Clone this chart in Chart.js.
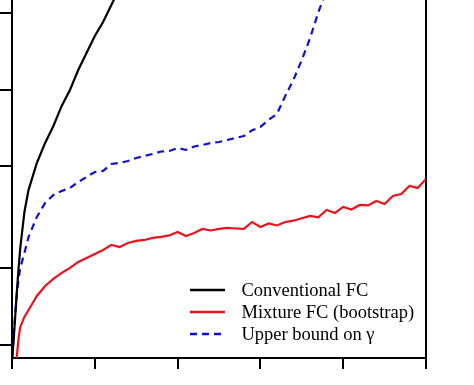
<!DOCTYPE html>
<html>
<head>
<meta charset="utf-8">
<script src="https://cdn.jsdelivr.net/npm/chart.js@4.4.1/dist/chart.umd.min.js"></script>
<style>
  body { margin: 0; background: #fff; }
  canvas { display: block; }
</style>
</head>
<body>
<canvas id="fc-chart" width="474" height="385"></canvas>
<script>
// sample positions on the x axis
const xValues = [0, 2, 4, 6, 8, 10, 15, 20, 30, 40, 50, 60, 70, 80, 90, 100,
    110, 120, 130, 140, 150, 160, 170, 180, 190, 200, 210, 220, 230, 240, 250,
    260, 270, 280, 290, 300, 310, 320, 330, 340, 350, 360, 370, 380, 390, 400,
    410, 420, 430, 440, 450, 460, 470, 480, 490, 500];

const xTicks = [0, 100, 200, 300, 400, 500];
const yTicks = [1, 2, 5, 10, 20];

const seriesLabels = ["Conventional FC", "Mixture FC (bootstrap)", "Upper bound on \u03b3"];

const conventional = [0.858, 1.046, 1.311, 1.642, 2.002, 2.398, 3.317, 4.05, 5.16, 6.18, 7.20,
    8.63, 9.96, 11.93, 13.91, 16.21, 18.39, 21.44, 24.99];

const mixture = [0.50, 0.609, 0.784, 0.914, 1.065, 1.176, 1.287, 1.371, 1.555, 1.702, 1.813,
    1.914, 2.002, 2.113, 2.191, 2.272, 2.355, 2.464, 2.419, 2.508, 2.554,
    2.577, 2.624, 2.648, 2.684, 2.769, 2.672, 2.745, 2.846, 2.807, 2.846,
    2.871, 2.858, 2.846, 3.030, 2.897, 2.990, 2.937, 3.030, 3.066, 3.134,
    3.200, 3.163, 3.378, 3.288, 3.470, 3.393, 3.533, 3.517, 3.663, 3.565,
    3.832, 3.902, 4.194, 4.119, 4.467];

const upperBound = [0.874, 1.094, 1.346, 1.598, 1.813, 2.002, 2.293, 2.648, 3.171, 3.597, 3.867,
    4.009, 4.119, 4.347, 4.548, 4.758, 4.801, 5.113, 5.16, 5.254, 5.398,
    5.495, 5.595, 5.723, 5.749, 5.906, 5.801, 5.986, 6.068, 6.178, 6.234,
    6.347, 6.463, 6.581, 6.93, 7.14, 7.62, 8.03, 9.44, 10.94, 13.06,
    15.92, 20.1, 24.55];

function toPoints(values) {
    return values.map((v, i) => ({ x: xValues[i], y: v }));
}

// legend drawn inside the plot, lower right
const innerLegend = {
    id: "innerLegend",
    afterDraw(chart) {
        const ctx = chart.ctx;
        ctx.save();
        ctx.font = "18.5px 'Liberation Serif', 'DejaVu Serif', serif";
        ctx.textBaseline = "alphabetic";
        ctx.fillStyle = "#000";
        chart.data.datasets.forEach((ds, i) => {
            const y = 290 + i * 22;
            ctx.beginPath();
            ctx.strokeStyle = ds.borderColor;
            ctx.lineWidth = 2.3;
            ctx.setLineDash(ds.borderDash || []);
            ctx.moveTo(190, y);
            ctx.lineTo(225, y);
            ctx.stroke();
            ctx.setLineDash([]);
            ctx.fillText(ds.label, 241.5, y + 6);
        });
        ctx.restore();
    }
};

const ctx = document.getElementById("fc-chart").getContext("2d");

const myChart = new Chart(ctx, {
    type: "line",
    data: {
        datasets: [
            {
                label: seriesLabels[0],
                data: toPoints(conventional),
                borderColor: "#000000",
                borderWidth: 2.2
            },
            {
                label: seriesLabels[1],
                data: toPoints(mixture),
                borderColor: "#e8141c",
                borderWidth: 2.2
            },
            {
                label: seriesLabels[2],
                data: toPoints(upperBound),
                borderColor: "#1010d0",
                borderWidth: 2.2,
                borderDash: [7, 5]
            }
        ]
    },
    options: {
        responsive: false,
        animation: false,
        layout: { padding: { top: 0, right: 48, bottom: 0, left: 0 } },
        elements: { point: { radius: 0 }, line: { tension: 0 } },
        plugins: { legend: { display: false }, tooltip: { enabled: false } },
        scales: {
            x: {
                type: "linear",
                min: 0,
                max: 500,
                afterBuildTicks: s => { s.ticks = xTicks.map(v => ({ value: v })); },
                afterFit: s => { s.height = 27; },
                ticks: { display: false },
                grid: { drawOnChartArea: false, drawTicks: true, tickLength: 11, color: "#000", lineWidth: 2 },
                border: { display: true, color: "#000", width: 2 }
            },
            y: {
                type: "logarithmic",
                min: 0.8888,
                max: 22.43,
                afterBuildTicks: s => { s.ticks = yTicks.map(v => ({ value: v })); },
                afterFit: s => { s.width = 12; },
                ticks: { display: false },
                grid: { drawOnChartArea: false, drawTicks: true, tickLength: 12, color: "#000", lineWidth: 2 },
                border: { display: true, color: "#000", width: 2 }
            },
            y2: {
                type: "linear",
                position: "right",
                display: true,
                min: 0,
                max: 1,
                afterFit: s => { s.width = 0; },
                ticks: { display: false },
                grid: { drawOnChartArea: false, drawTicks: false },
                border: { display: true, color: "#000", width: 2 }
            }
        }
    },
    plugins: [innerLegend]
});
</script>
</body>
</html>
